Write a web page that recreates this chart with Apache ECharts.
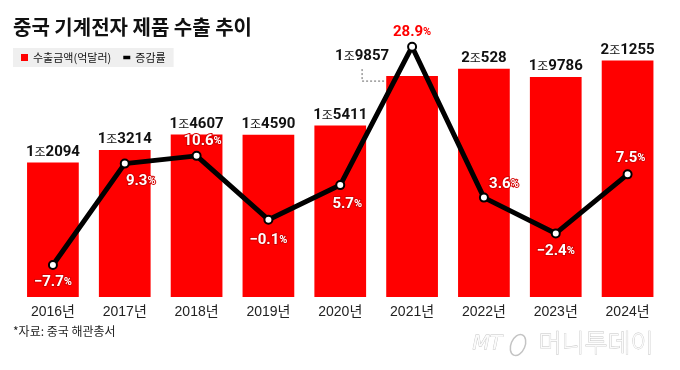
<!DOCTYPE html>
<html><head><meta charset="utf-8">
<script src="https://cdn.jsdelivr.net/npm/echarts@6/dist/echarts.min.js"></script>
<style>html,body{margin:0;padding:0;background:#fff}#c{width:680px;height:370px}</style>
</head><body><div id="c"></div>
<script>
// ---- data ----
const categories = ['2016년', '2017년', '2018년', '2019년', '2020년', '2021년', '2022년', '2023년', '2024년'];
const exportValues = [12094, 13214, 14607, 14590, 15411, 19857, 20528, 19786, 21255]; // 억달러
const growthRates = [-7.7, 9.3, 10.6, -0.1, 5.7, 28.9, 3.6, -2.4, 7.5]; // %
const seriesNames = ['수출금액(억달러)', '증감률'];
const titleText = '중국 기계전자 제품 수출 추이';
const sourceText = '*자료: 중국 해관총서';
const watermarkText = '머니투데이';

// ---- styling ----
const NUM = "Roboto, 'Noto Sans CJK KR', sans-serif";
const AX = "'Liberation Sans', 'Noto Sans CJK KR', sans-serif";
const KR = "'Noto Sans CJK KR', sans-serif";
const RED = '#ff0000';
// label placement for rate labels (style only)
const ratePlacement = [
  {position: 'bottom', offset: [0, 0]},
  {position: 'bottom', offset: [16, 0]},
  {position: 'top', offset: [6, 3]},
  {position: 'bottom', offset: [0, 3]},
  {position: 'bottom', offset: [7, 2]},
  {position: 'top', offset: [0, 3], red: true},
  {position: 'top', offset: [20, 4]},
  {position: 'bottom', offset: [0, 0]},
  {position: 'top', offset: [3, 1]}
];
const LEADER_IDX = 5;
const LEADER_OFFSET = [-50, -9];

const chart = echarts.init(document.getElementById('c'), null, {renderer: 'canvas'});

function barLabel(p) {
  const v = p.value;
  return '{n|' + Math.floor(v / 10000) + '}{j|조}{n|' + (v % 10000) + '}';
}
function rateLabel(p) {
  return '{n|' + String(p.value).replace('-', '−') + '}{p|%}';
}
const whiteRich = {
  n: {fontFamily: NUM, fontWeight: 'bold', fontSize: 15, color: '#fff', textBorderColor: '#d40000', textBorderWidth: 2},
  p: {fontFamily: NUM, fontWeight: 'bold', fontSize: 11, color: '#fff', textBorderColor: '#d40000', textBorderWidth: 2}
};
const redRich = {
  n: {fontFamily: NUM, fontWeight: 'bold', fontSize: 15, color: RED, textBorderColor: '#fff', textBorderWidth: 1},
  p: {fontFamily: NUM, fontWeight: 'bold', fontSize: 11, color: RED, textBorderColor: '#fff', textBorderWidth: 1}
};

const barData = exportValues.map((v, i) => i === LEADER_IDX
  ? {value: v, label: {offset: LEADER_OFFSET}}
  : v);
const lineData = growthRates.map((v, i) => ({
  value: v,
  label: {
    position: ratePlacement[i].position,
    offset: ratePlacement[i].offset,
    rich: ratePlacement[i].red ? redRich : whiteRich
  }
}));

chart.setOption({
  animation: false,
  backgroundColor: '#fff',
  legend: {
    left: 13, top: 48,
    backgroundColor: '#efefef',
    padding: [4, 8, 4, 8],
    itemGap: 12,
    itemWidth: 7, itemHeight: 7,
    textStyle: {fontFamily: KR, fontSize: 11, color: '#111'},
    data: [
      {name: seriesNames[0], icon: 'rect', itemStyle: {color: RED}},
      {name: seriesNames[1], icon: 'path://M0,0h6v3h-6z', itemStyle: {color: '#000', borderWidth: 0}}
    ]
  },
  grid: {left: 17, right: 16.5, top: 30, bottom: 73, containLabel: false},
  xAxis: {
    type: 'category',
    data: categories,
    axisLine: {show: false},
    axisTick: {show: false},
    axisLabel: {fontFamily: AX, fontSize: 14, color: '#222', margin: 8}
  },
  yAxis: [
    {type: 'value', min: 0, max: 24000, show: false, splitLine: {show: false}},
    {type: 'value', min: -13.06, max: 31.7, show: false, splitLine: {show: false}}
  ],
  series: [
    {
      name: seriesNames[0],
      type: 'bar',
      data: barData,
      barCategoryGap: '28%',
      itemStyle: {color: RED},
      label: {
        show: true, position: 'top', distance: 3,
        formatter: barLabel,
        rich: {
          n: {fontFamily: NUM, fontWeight: 'bold', fontSize: 15, color: '#111'},
          j: {fontFamily: KR, fontSize: 12, color: '#111'}
        }
      },
      z: 2
    },
    {
      name: seriesNames[1],
      type: 'line',
      yAxisIndex: 1,
      data: lineData,
      lineStyle: {color: '#000', width: 5},
      itemStyle: {color: '#fff', borderColor: '#000', borderWidth: 2},
      symbol: 'circle', symbolSize: 8,
      label: {show: true, formatter: rateLabel, distance: 5},
      z: 5
    }
  ]
});

// leader line for the moved 2021 label, derived from the bar's scale position
const pA = chart.convertToPixel({seriesIndex: 0}, [0, 0]);
const pB = chart.convertToPixel({seriesIndex: 0}, [1, 0]);
const band = pB[0] - pA[0];
const barTop = chart.convertToPixel({seriesIndex: 0}, [LEADER_IDX, exportValues[LEADER_IDX]]);
const leftEdge = barTop[0] - band * 0.36;
const lx = barTop[0] + LEADER_OFFSET[0];

chart.setOption({
  graphic: [
    {type: 'text', left: 13, top: 17, style: {text: titleText, font: "bold 20px 'Noto Sans CJK KR'", fill: '#111'}},
    {type: 'text', left: 13, top: 325, style: {text: sourceText, font: "12px 'Noto Sans CJK KR'", fill: '#222'}},
    {type: 'polyline', shape: {points: [[lx, barTop[1] - 7], [lx, barTop[1] + 5], [leftEdge, barTop[1] + 5]]},
      style: {stroke: '#666', lineWidth: 1, lineDash: [2, 2], fill: null}, z: 1},
    {type: 'text', left: 472, top: 333, style: {text: 'MT', font: "italic 20px 'DejaVu Sans'", fill: '#fbfbfb', stroke: '#c4c4c4', lineWidth: 0.8}},
    {type: 'ellipse', shape: {cx: 518, cy: 345, rx: 7, ry: 11}, rotation: -0.4, originX: 518, originY: 345,
      style: {fill: 'none', stroke: '#c4c4c4', lineWidth: 1.5}},
    {type: 'text', left: 538, top: 330, style: {text: watermarkText, font: "300 25px 'Noto Sans CJK KR'", fill: '#fbfbfb', stroke: '#c4c4c4', lineWidth: 0.8}}
  ]
});
</script>
</body></html>
